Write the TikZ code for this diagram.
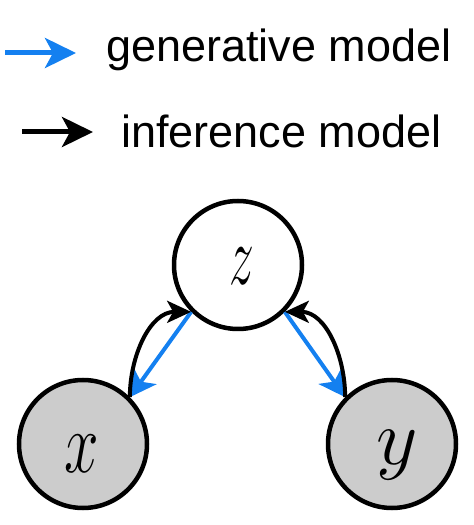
\RequirePackage{fix-cm}
\documentclass[tikz,border=0pt]{standalone}
\usepackage{fontspec}
\setmainfont{Liberation Sans}
\usetikzlibrary{arrows.meta}
\definecolor{genblue}{RGB}{20,128,240}
\definecolor{obsgray}{RGB}{204,204,204}
\begin{document}
\begin{tikzpicture}[x=1pt,y=1pt,
  var/.style={circle,draw=black,line width=4.5pt,minimum size=128pt,inner sep=0pt,fill=white},
  obs/.style={var,fill=obsgray},
  varlabel/.style={inner sep=0pt,font=\fontsize{62}{62}\selectfont},
  gen/.style={draw=genblue,line width=4pt,-{Stealth[length=26pt,width=28pt,inset=7pt]}},
  inf/.style={draw=black,line width=4pt,-{Stealth[length=24pt,width=22pt,inset=6pt]}},
  legarrowblue/.style={draw=genblue,line width=5pt,-{Stealth[length=31pt,width=30pt,inset=8pt]}},
  legarrowblack/.style={draw=black,line width=5pt,-{Stealth[length=31pt,width=30pt,inset=8pt]}},
  legend/.style={font=\fontsize{45}{54}\selectfont,anchor=base west,inner sep=0pt}
]
\useasboundingbox (0,0) rectangle (474,525);
% legend
\coordinate (lb1) at (5,472);
\coordinate (lb2) at (76,472);
\draw[legarrowblue] (lb1) -- (lb2);
\node[legend] (lgen) at (106,463) {generative model};
\coordinate (lk1) at (22,393);
\coordinate (lk2) at (93,393);
\draw[legarrowblack] (lk1) -- (lk2);
\node[legend] (linf) at (121,377) {inference model};
% graph
\node[var] (z) at (238,260) {};
\node[obs] (x) at (83,81) {};
\node[obs] (y) at (392,81) {};
\node[varlabel] (zl) at (242,258.5) {\scalebox{0.8}[1.37]{$z$}};
\node[varlabel] (xl) at (82,71) {\scalebox{1}[1.4]{$x$}};
\node[varlabel] (yl) at (397,70) {\scalebox{1.3}[1.28]{$y$}};
\draw[gen] (z.south west) -- (x.north east);
\draw[gen] (z.south east) -- (y.north west);
\draw[inf] (x.north east) to[out=90,in=180] (z.south west);
\draw[inf] (y.north west) to[out=90,in=0] (z.south east);
\end{tikzpicture}
\end{document}
